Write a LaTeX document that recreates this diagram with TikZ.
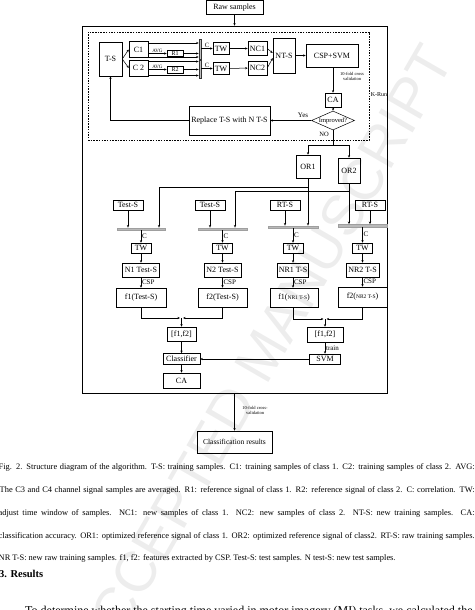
\documentclass[tikz,border=0pt]{standalone}
\usepackage{fontspec}
\setmainfont{Liberation Serif}
\setsansfont{Liberation Sans}
\usetikzlibrary{arrows.meta,shapes.geometric,calc}
\begin{document}
\begin{tikzpicture}[x=1pt,y=-1pt,
  bx/.style={draw, line width=0.5pt, inner sep=0pt, font=\fontsize{8}{9}\selectfont},
  ln/.style={line width=0.5pt},
  ar/.style={line width=0.5pt,-{Stealth[length=2.6pt,width=2.2pt]}},
  lab/.style={inner sep=0.8pt, font=\fontsize{7}{7}\selectfont},
  tinylab/.style={inner sep=0pt, align=center, font=\fontsize{4.5}{5}\selectfont},
  hbar/.style={draw=gray!75, fill=gray!55, line width=0.3pt, inner sep=0pt, minimum height=2.5},
  vbar/.style={draw=gray!40!black, fill=gray!50, line width=0.4pt, inner sep=0pt, minimum width=2.2},
  captxt/.style={anchor=base west, inner sep=0pt, font=\fontsize{8.4}{9}\selectfont},
]
\useasboundingbox (0,0) rectangle (474,610);
% watermark
\node[rotate=60, text=black!7, inner sep=0pt, font=\sffamily\fontsize{57}{57}\selectfont] (wm) at (262,355) {ACCEPTED MANUSCRIPT};

% frames
\node[draw, line width=0.5pt, minimum width=305, minimum height=367, inner sep=0pt] (outer) at (234.5,209.5) {};
\node[draw, dash pattern=on 1.5pt off 1.2pt, line width=0.5pt, minimum width=281, minimum height=108, inner sep=0pt] (dbox) at (228.5,86) {};
\node[font=\fontsize{6}{6}\selectfont, inner sep=0pt] (krun) at (379,95) {K-Run};

\node[bx, minimum width=57, minimum height=14] (raw) at (234.5,7.5) {Raw samples};
\draw[ar] (raw) -- (raw |- outer.north);

% upper loop
\node[bx, minimum width=23, minimum height=34] (ts) at (110.5,59) {T-S};
\node[bx, minimum width=19, minimum height=16] (c1) at (138.5,49.5) {C1};
\node[bx, minimum width=19, minimum height=16] (c2) at (138.5,68) {C 2};
\draw[ar] (ts.east) -- (c1.west);
\draw[ar] (ts.east) -- (c2.west);
\node[bx, minimum width=16, minimum height=6.5, font=\fontsize{6}{6}\selectfont] (r1) at (175,53.5) {R1};
\node[bx, minimum width=16, minimum height=6.5, font=\fontsize{6}{6}\selectfont] (r2) at (175,69.5) {R2};
\node[vbar, minimum height=20] (vb1) at (200,49) {};
\node[vbar, minimum height=18] (vb2) at (200,69.5) {};
\draw[ar] (c1.east |- 0,43) -- (vb1.west |- 0,43);
\draw[ar] (c1.east |- r1.west) -- node[above, inner sep=0.5pt, font=\fontsize{5}{5}\selectfont]{AVG} (r1.west);
\draw[ar] (r1.east) -- (vb1.west |- r1.east);
\draw[ar] (c1.east |- 0,57) -- (vb1.west |- 0,57);
\draw[ar] (c2.east |- 0,61.5) -- (vb2.west |- 0,61.5);
\draw[ar] (c2.east |- r2.west) -- node[above, inner sep=0.5pt, font=\fontsize{5}{5}\selectfont]{AVG} (r2.west);
\draw[ar] (r2.east) -- (vb2.west |- r2.east);
\draw[ar] (c2.east |- 0,75.5) -- (vb2.west |- 0,75.5);

\node[bx, minimum width=16, minimum height=12] (tw1) at (221,48.5) {TW};
\node[bx, minimum width=16, minimum height=12] (tw2) at (221,68.5) {TW};
\draw[ar] (vb1.east |- tw1) -- node[above, lab, font=\fontsize{6.5}{6.5}\selectfont]{C} (tw1.west);
\draw[ar] (vb2.east |- tw2) -- node[above, lab, font=\fontsize{6.5}{6.5}\selectfont]{C} (tw2.west);
\node[bx, minimum width=19, minimum height=14] (nc1) at (257.5,48.5) {NC1};
\node[bx, minimum width=19, minimum height=14] (nc2) at (257.5,68) {NC2};
\draw[ar] (tw1) -- (nc1);
\draw[ar] (tw2) -- (nc2);
\node[bx, minimum width=22, minimum height=35] (nts) at (284,55.5) {NT-S};
\draw[ar] (nc1.east) -- ($(nts.west)+(0,-2.5)$);
\draw[ar] (nc2.east) -- ($(nts.west)+(0,2.5)$);
\node[bx, minimum width=52, minimum height=23] (csp) at (332,55.5) {CSP+SVM};
\draw[ar] (nts) -- (csp);
\node[bx, minimum width=16, minimum height=14] (ca1) at (333,100) {CA};
\draw[ar] (csp.south -| ca1) -- (ca1);
\node[tinylab] (cv1) at (352,76) {10-fold cross\\validation};
\node[draw, diamond, aspect=2.26, minimum width=43, minimum height=19, inner sep=0pt, line width=0.5pt, font=\fontsize{6.5}{6.5}\selectfont] (imp) at (333,120.5) {Improved?};
\draw[ar] (ca1) -- (imp);
\node[bx, minimum width=81, minimum height=29] (rep) at (229.5,120.5) {Replace T-S with N T-S};
\draw[ar] (imp.west) -- (rep.east);
\node[lab] (yes) at (303,115) {Yes};
\draw[ar] (rep.west) -| (ts.south);
\node[inner sep=0pt, font=\fontsize{6.5}{6.5}\selectfont] (no) at (324,134) {NO};

% OR
\coordinate (nosplit) at (333,145);
\node[bx, minimum width=24, minimum height=23] (or1) at (308,166.5) {OR1};
\node[bx, minimum width=22, minimum height=25] (or2) at (349,170.5) {OR2};
\draw[ln] (imp.south) -- (nosplit);
\draw[ar] (nosplit) -| (or1.north);
\draw[ar] (nosplit) -| (or2.north);

% lower branches
\node[bx, minimum width=30, minimum height=10] (t1) at (128,205) {Test-S};
\node[bx, minimum width=30, minimum height=10] (t2) at (210,205) {Test-S};
\node[bx, minimum width=30, minimum height=10] (rt1) at (285,205) {RT-S};
\node[bx, minimum width=30, minimum height=10] (rt2) at (370,205) {RT-S};
\node[hbar, minimum width=48] (hb1) at (141,229) {};
\node[hbar, minimum width=49] (hb2) at (222.5,229) {};
\node[hbar, minimum width=50] (hb3) at (293,227) {};
\node[hbar, minimum width=49] (hb4) at (362.5,225.5) {};
\draw[ar] (t1.south) -- (t1.south |- hb1.north);
\draw[ar] (t2.south) -- (t2.south |- hb2.north);
\draw[ar] (rt1.south) -- (rt1.south |- hb3.north);
\draw[ar] (rt2.south) -- (rt2.south |- hb4.north);
\draw[ar] (or1.south) -- (or1.south |- hb3.north);
\draw[ar] (or2.south) -- (or2.south |- hb4.north);
\draw[ar] (or1.south |- 0,187) -| ([xshift=18pt]hb1.north);
\draw[ar] (or2.south |- 0,191) -| ([xshift=12.5pt]hb2.north);

\node[bx, minimum width=20, minimum height=10] (lw1) at (141,248) {TW};
\node[bx, minimum width=20, minimum height=10] (lw2) at (222.5,248) {TW};
\node[bx, minimum width=20, minimum height=10] (lw3) at (293,248) {TW};
\node[bx, minimum width=20, minimum height=10] (lw4) at (362.5,248) {TW};
\foreach \i in {1,2,3,4}{
  \draw[ar] (hb\i.south) -- node[right, lab, pos=0.45]{C} (lw\i.north);
}
\node[bx, minimum width=37, minimum height=14] (nn1) at (141,270) {N1 Test-S};
\node[bx, minimum width=37, minimum height=14] (nn2) at (222.5,270) {N2 Test-S};
\node[bx, minimum width=31, minimum height=14] (nn3) at (293,270) {NR1 T-S};
\node[bx, minimum width=33, minimum height=14] (nn4) at (362.5,270) {NR2 T-S};
\node[bx, minimum width=50, minimum height=19] (ff1) at (141,297.5) {f1(Test-S)};
\node[bx, minimum width=49, minimum height=19] (ff2) at (222.5,297.5) {f2(Test-S)};
\node[bx, minimum width=48, minimum height=19] (ff3) at (294,297.5) {f1({\fontsize{5.5}{6}\selectfont NR1 T-S})};
\node[bx, minimum width=49, minimum height=20] (ff4) at (362.5,297) {f2({\fontsize{5.5}{6}\selectfont NR2 T-S})};
\foreach \i in {1,2,3,4}{
  \draw[ar] (lw\i.south) -- (lw\i.south |- nn\i.north);
  \draw[ar] (nn\i.south -| lw\i) -- node[right, lab, pos=0.45]{CSP} (lw\i |- ff\i.north);
}

% merging
\coordinate (jl) at (181.5,318);
\coordinate (jr) at (325,319);
\node[bx, minimum width=29, minimum height=14] (fl) at (181.5,334) {[f1,f2]};
\node[bx, minimum width=36, minimum height=15] (fr) at (325,334.5) {[f1,f2]};
\draw[ar] (ff1.south) |- ([xshift=-1.5pt]jl);
\draw[ar] (ff2.south) |- ([xshift=1.5pt]jl);
\draw[ar] (jl) -- (jl |- fl.north);
\draw[ar] (ff3.south -| lw3) |- ([xshift=-1.5pt]jr);
\draw[ar] (ff4.south) |- ([xshift=1.5pt]jr);
\draw[ar] (jr) -- (jr |- fr.north);
\node[bx, minimum width=37, minimum height=11] (cls) at (181.5,359) {Classifier};
\node[bx, minimum width=37, minimum height=15] (cab) at (181.5,380.5) {CA};
\node[bx, minimum width=31, minimum height=10] (svm) at (325,359) {SVM};
\draw[ar] (fl) -- (cls);
\draw[ar] (cls) -- (cab);
\draw[ar] (fr) -- node[right, lab]{train} (svm);
\draw[ar] (svm.west) -- (cls.east);

% result
\node[bx, minimum width=75, minimum height=22, font=\fontsize{7.5}{8}\selectfont] (res) at (234.5,442) {Classification results};
\draw[ar] (outer.south -| res) -- (res.north);
\node[tinylab] (cv2) at (255,410) {10-fold cross-\\validation};

% caption
\node[captxt] (l1) at (-1.5,469.5) {\makebox[476pt][s]{Fig. 2. Structure diagram of the algorithm. T-S: training samples. C1: training samples of class 1. C2: training samples of class 2. AVG:}};
\node[captxt] (l2) at (-0.5,492) {\makebox[475pt][s]{The C3 and C4 channel signal samples are averaged. R1: reference signal of class 1. R2: reference signal of class 2. C: correlation. TW:}};
\node[captxt] (l3) at (-1.5,515.4) {\makebox[476pt][s]{adjust time window of samples. NC1: new samples of class 1. NC2: new samples of class 2. NT-S: new training samples. CA:}};
\node[captxt] (l4) at (-1.5,538.7) {\makebox[476pt][s]{classification accuracy. OR1: optimized reference signal of class 1. OR2: optimized reference signal of class2. RT-S: raw training samples.}};
\node[captxt] (l5) at (-1.5,560.5) {NR T-S: new raw training samples. f1, f2: features extracted by CSP. Test-S: test samples. N test-S: new test samples.};
\node[anchor=base west, inner sep=0pt, font=\bfseries\fontsize{10.5}{12}\selectfont] (h3) at (-1,577) {3. Results};
\node[anchor=base west, inner sep=0pt, font=\fontsize{12}{13}\selectfont] (p1) at (25,614) {To determine whether the starting time varied in motor imagery (MI) tasks, we calculated the};
\end{tikzpicture}
\end{document}
